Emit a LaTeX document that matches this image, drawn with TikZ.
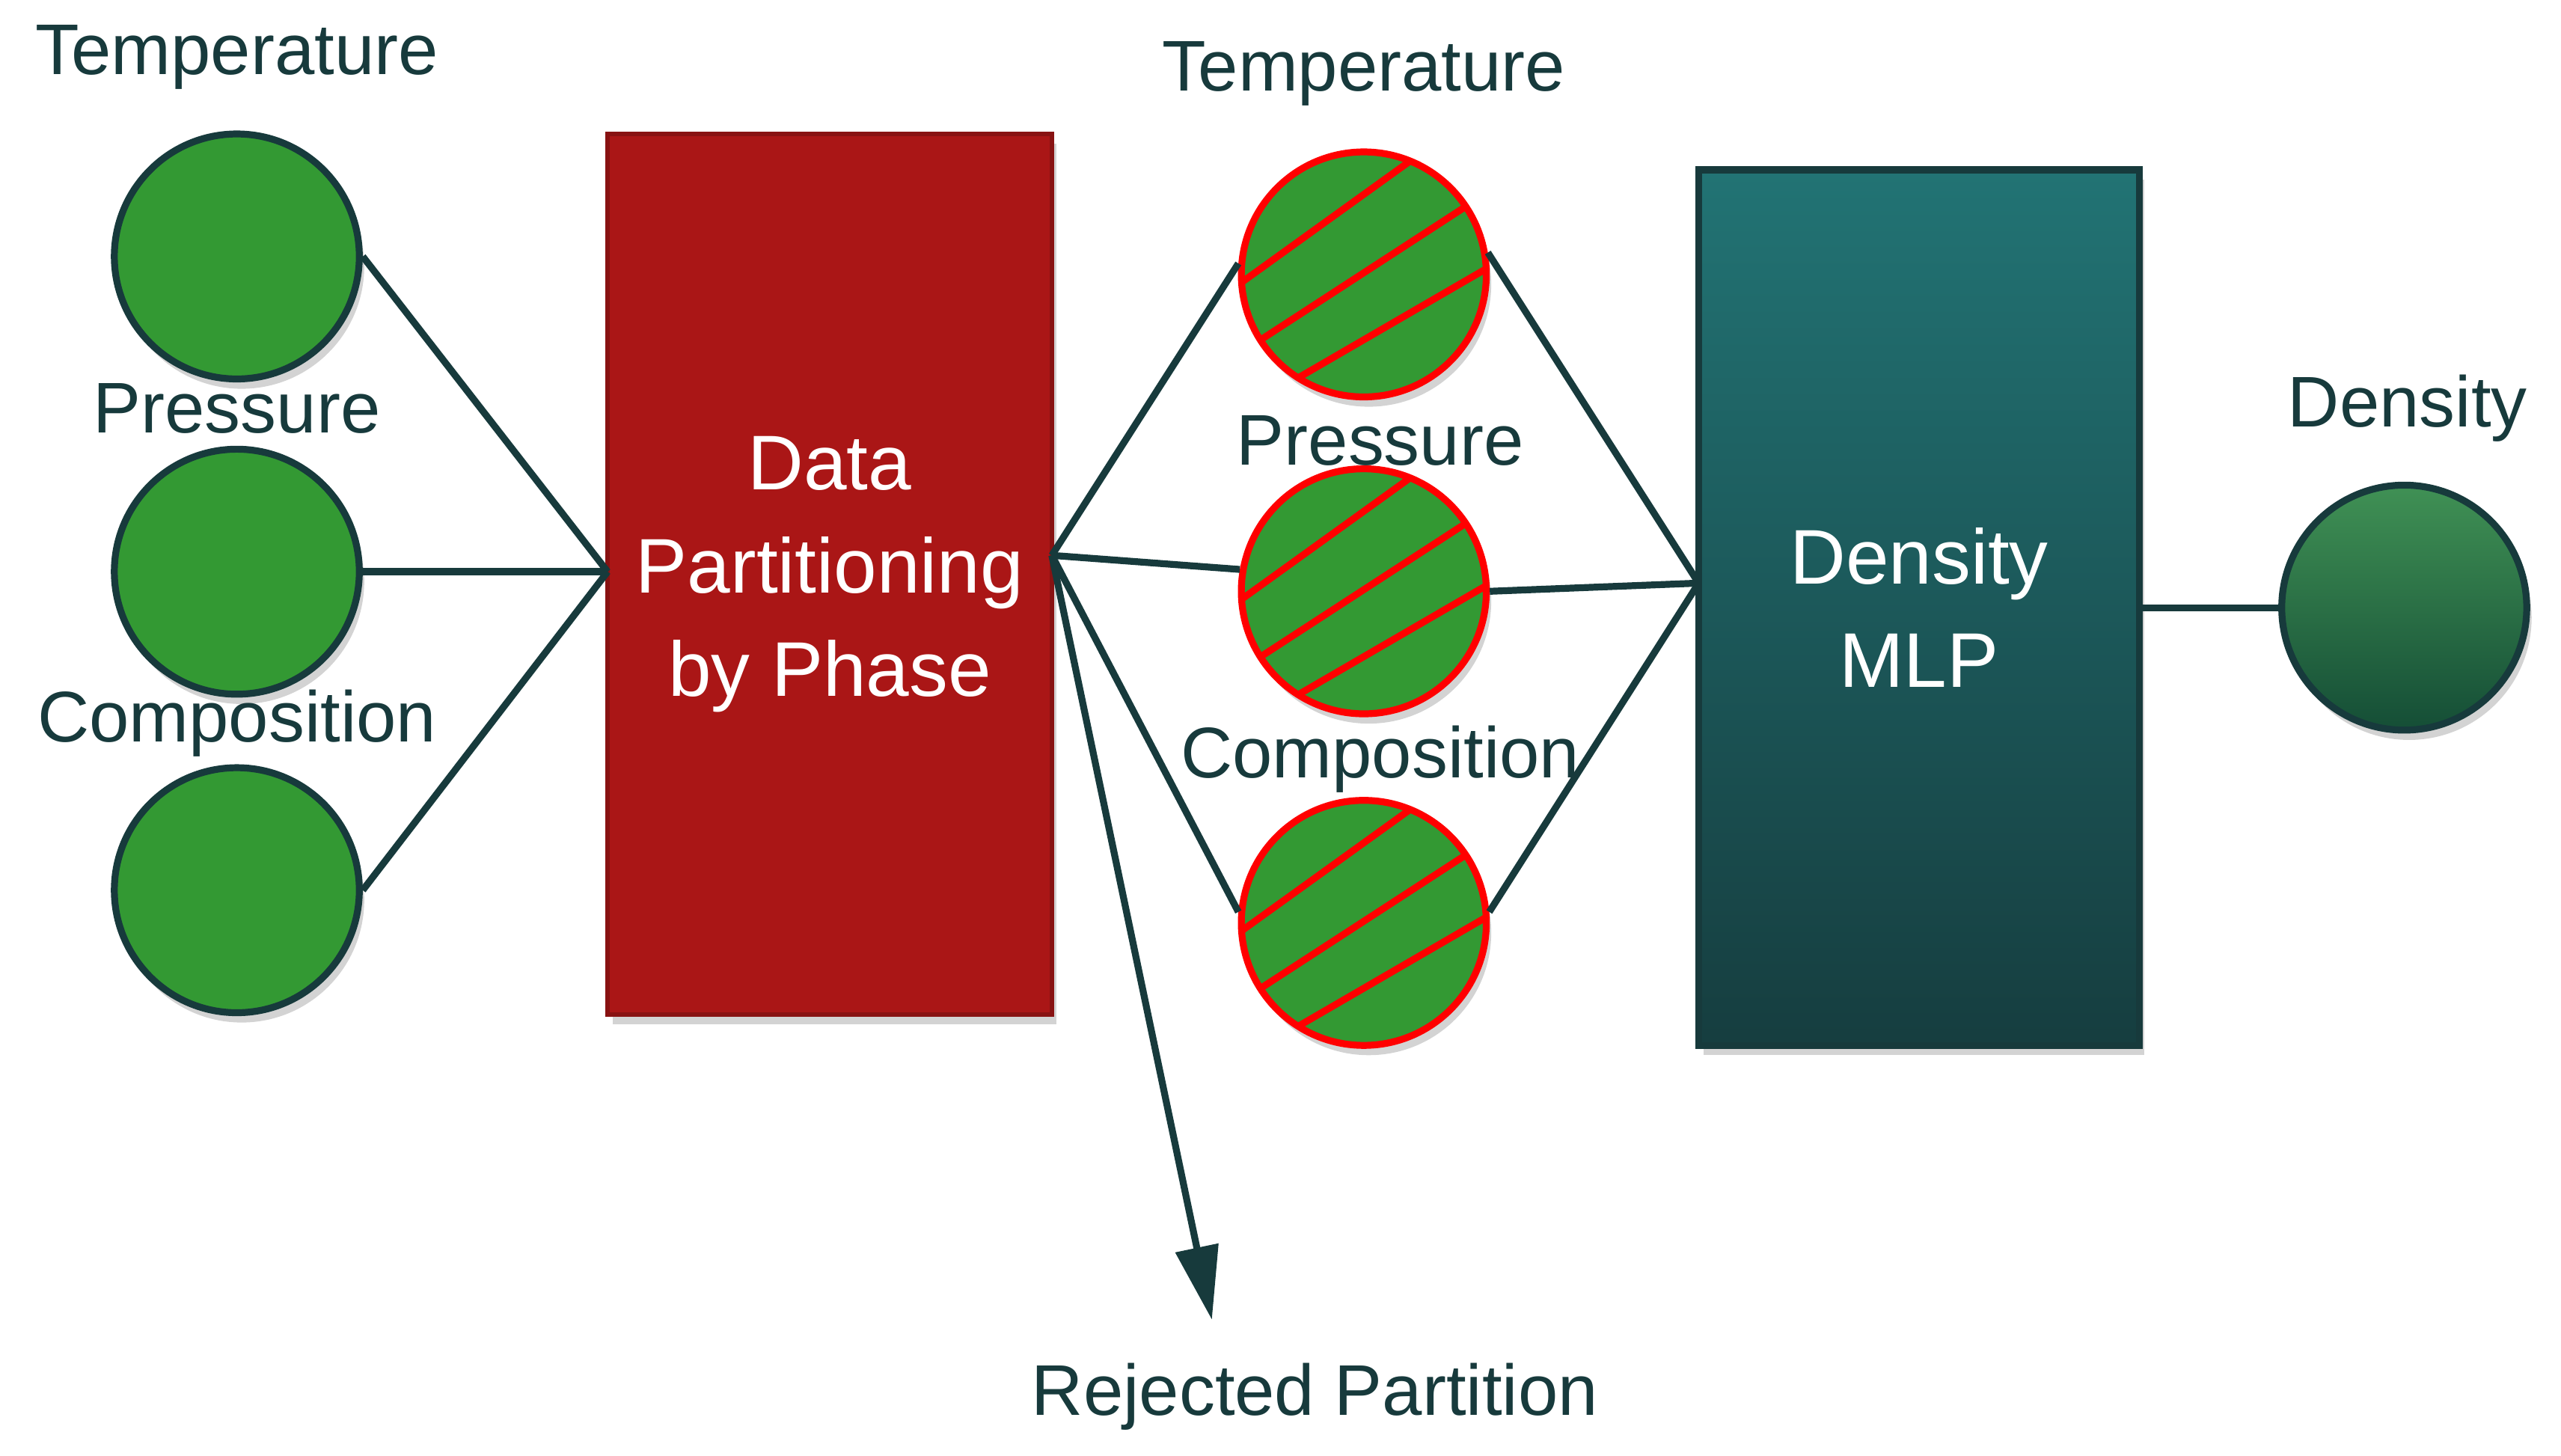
\documentclass[tikz,border=0pt]{standalone}
\usepackage{fontspec}
\setmainfont{Liberation Sans}
\usetikzlibrary{arrows.meta,shadows}
\definecolor{ink}{HTML}{173A3C}
\definecolor{leaf}{HTML}{339933}
\definecolor{brick}{HTML}{AA1616}
\tikzset{
  shade/.style={drop shadow={shadow xshift=0.3mm, shadow yshift=-0.6mm, opacity=0.35}},
  inp/.style={circle, draw=ink, very thick, fill=leaf, minimum size=1.5cm, inner sep=0, shade},
  sel/.style={circle, draw=red, very thick, minimum size=1.5cm, inner sep=0},
  lbl/.style={text=ink, font=\fontsize{12.5}{14}\selectfont},
  wire/.style={ink, very thick}
}
\begin{document}
\begin{tikzpicture}
  \useasboundingbox (0,0) rectangle (15.68,-8.91);
  % inputs
  \node[inp] (t1) at (1.45,-1.57) {};
  \node[inp] (p1) at (1.45,-3.50) {};
  \node[inp] (c1) at (1.45,-5.45) {};
  \node[lbl] at (1.45,-0.35) {Temperature};
  \node[lbl] at (1.45,-2.50) {Pressure};
  \node[lbl] at (1.45,-4.43) {Composition};
  % partitioning
  \node[draw=brick!80!black, thick, fill=brick, minimum width=2.72cm, minimum height=5.39cm, shade,
        text=white, align=center, font=\fontsize{13.5}{18}\selectfont] (part) at (5.08,-3.515)
        {Data\\Partitioning\\by Phase};
  \coordinate (pin) at (3.72,-3.50);
  \coordinate (pout) at (6.44,-3.40);
  % selected inputs
  \foreach \n/\y in {t2/-1.68, p2/-3.62, c2/-5.65} {
    \fill[leaf, shade] (8.35,\y) circle (0.75);
    \begin{scope}
      \clip (8.35,\y) circle (0.75);
      \foreach \o/\s in {0.49/0.72, 0.01/0.65, -0.40/0.58}
        \draw[red, very thick] (7.45,\y+\o-0.9*\s) -- (9.25,\y+\o+0.9*\s);
    \end{scope}
    \node[sel] (\n) at (8.35,\y) {};
  }
  \node[lbl] at (8.35,-0.45) {Temperature};
  \node[lbl] at (8.45,-2.70) {Pressure};
  \node[lbl] at (8.45,-4.65) {Composition};
  % model
  \node[draw=ink, very thick, top color=teal!60!ink!90!white, bottom color=ink!95!teal, shade,
        minimum width=2.70cm, minimum height=5.36cm, text=white, align=center,
        font=\fontsize{13.5}{18}\selectfont] (mlp) at (11.75,-3.72) {Density\\MLP};
  \coordinate (min) at (10.40,-3.57);
  % output
  \node[circle, draw=ink, very thick, top color=ink!70!green!80!white, bottom color=ink!90!green,
        minimum size=1.5cm, inner sep=0, shade] (out) at (14.72,-3.72) {};
  \node[lbl] at (14.74,-2.50) {Density};
  \node[lbl] (rej) at (8.05,-8.55) {Rejected Partition};
  \coordinate (rejtip) at (7.42,-8.08);
  % connections
  \foreach \n in {t1,p1,c1} \draw[wire] (\n.east) -- (pin);
  \foreach \n/\a in {t2/175,p2/170,c2/175} \draw[wire] (pout) -- (\n.\a);
  \foreach \n/\a in {t2/10,p2/0,c2/5} \draw[wire] (\n.\a) -- (min);
  \draw[wire, -{Triangle[length=4.5mm,width=2.6mm]}] (pout) -- (rejtip);
  \draw[wire] (mlp.east) -- (out.west);
\end{tikzpicture}
\end{document}
